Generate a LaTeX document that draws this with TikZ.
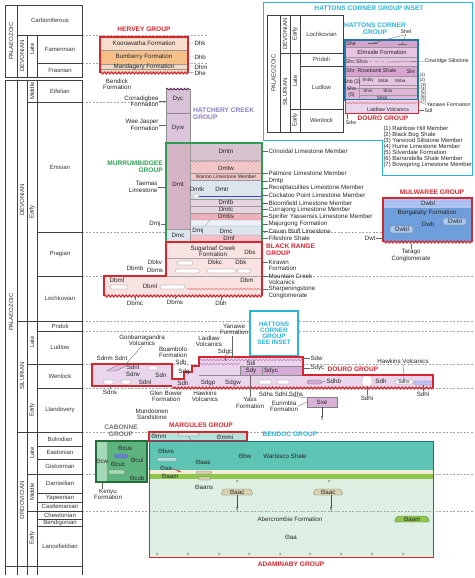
\documentclass[tikz,border=0pt]{standalone}
\usepackage{fontspec}
\setmainfont{Liberation Sans}
\usepackage{xcolor}
\usepackage{tikz}
\usetikzlibrary{decorations.pathmorphing, patterns, arrows.meta}
\definecolor{grpred}{HTML}{D7262E}
\definecolor{grpcyan}{HTML}{2BB3DA}
\definecolor{grpgreen}{HTML}{2F9E52}
\definecolor{grppurple}{HTML}{8C7BC0}
\definecolor{koorafill}{HTML}{F7DDCB}
\definecolor{bumbfill}{HTML}{F6C088}
\definecolor{mandafill}{HTML}{F1D9BF}
\definecolor{hatchfill}{HTML}{DCC5DA}
\definecolor{dmtfill}{HTML}{D5B3C5}
\definecolor{dmtnfill}{HTML}{D8C2CE}
\definecolor{dmtwfill}{HTML}{F2C5C6}
\definecolor{paleblue}{HTML}{DCE4EE}
\definecolor{dmtbfill}{HTML}{E6D5DF}
\definecolor{dmtisfill}{HTML}{EEB1BA}
\definecolor{rangefill}{HTML}{F8E2E2}
\definecolor{mulfill}{HTML}{6E9EDB}
\definecolor{mulpale}{HTML}{ABC7EC}
\definecolor{incfill}{HTML}{E7C4E1}
\definecolor{incdark}{HTML}{D7A3CF}
\definecolor{incborder}{HTML}{1B78A8}
\definecolor{dourofill}{HTML}{E9D6EC}
\definecolor{cabfill}{HTML}{5DB47F}
\definecolor{cabpale}{HTML}{A6D9B7}
\definecolor{margfill}{HTML}{B3E1DC}
\definecolor{bendfill}{HTML}{5EC4B4}
\definecolor{bendborder}{HTML}{1E6F88}
\definecolor{adamfill}{HTML}{DDF0E3}
\definecolor{limegreen}{HTML}{8EC64B}
\definecolor{creamfill}{HTML}{F1ECD4}
\definecolor{lensfill}{HTML}{D9D3B0}

\begin{document}
\begin{tikzpicture}[
  x=1pt, y=-1pt,
  tsline/.style={draw=black!75, line width=0.6pt},
  tstext/.style={font=\fontsize{6}{6.5}\selectfont, text=black!80, inner sep=0pt},
  tsrot/.style={tstext, rotate=90},
  stageline/.style={draw=black!35, dash pattern=on 2pt off 1.5pt, line width=0.4pt},
  lbl/.style={font=\fontsize{6.2}{6.4}\selectfont, text=black!85, inner sep=0.3pt, align=center},
  lblw/.style={lbl, anchor=west, align=left},
  lble/.style={lbl, anchor=east, align=right},
  small/.style={lbl, font=\fontsize{5}{5.5}\selectfont},
  ilbl/.style={lbl, font=\fontsize{5.3}{5.6}\selectfont},
  ttl/.style={font=\fontsize{6.6}{6.8}\bfseries\selectfont, inner sep=0pt, align=center},
  grp/.style={draw=grpred, line width=1.1pt},
  wavy/.style={decorate, decoration={snake, segment length=3.5pt, amplitude=1pt}},
  lead/.style={draw=black!60, line width=0.35pt},
  lensbox/.style={draw=black!55, line width=0.3pt, rounded corners=1.5pt},
  qmark/.style={font=\fontsize{4.5}{5}\selectfont, text=black!70, inner sep=0pt},
  qarrow/.style={-{Stealth[length=2.5pt, width=2pt]}, draw=black!70, line width=0.4pt}
]
\useasboundingbox (0,0) rectangle (474,578);

% ---- stage boundaries (dashed) ----
\draw[stageline] (82,35) -- (207,35) (82,63) -- (207,63) (82,102) -- (166,102) (82,232) -- (383,232);
\draw[stageline] (82,276) -- (474,276) (82,321) -- (474,321) (82,331) -- (474,331) (82,364) -- (474,364);
\draw[stageline] (82,388) -- (474,388) (82,432) -- (474,432) (82,474) -- (474,474) (82,511) -- (474,511);

% ---- Timescale (top) ----
\draw[tsline] (5,5) rectangle (82,77);
\draw[tsline] (17,5) -- (17,77) (17,35) -- (82,35) (27,35) -- (27,77) (37,35) -- (37,77) (37,63) -- (82,63);
\node[tsrot] (tPalTop) at (11,41) {PALAEOZOIC};
\node[tstext] (tCarb) at (50,20) {Carboniferous};
\node[tsrot] (tDevTop) at (22,56) {DEVONIAN};
\node[tsrot] (tLateTop) at (32,49) {Late};
\node[tstext] (tFam) at (60,49) {Famennian};
\node[tstext] (tFras) at (60,70) {Frasnian};

% ---- Timescale (main) ----
\draw[tsline] (5,575) -- (5,80) -- (82,80) -- (82,575);
\draw[tsline] (17,80) -- (17,575) (27,80) -- (27,575) (37,80) -- (37,575);
\draw[tsline] (27,102) -- (82,102) (37,232) -- (82,232) (37,276) -- (82,276) (17,321) -- (82,321);
\draw[tsline] (37,331) -- (82,331) (27,364) -- (82,364) (37,388) -- (82,388) (17,432) -- (82,432);
\draw[tsline] (37,446) -- (82,446) (37,459) -- (82,459) (27,474) -- (82,474) (37,493) -- (82,493);
\draw[tsline] (37,502) -- (82,502) (27,511) -- (82,511) (37,519) -- (82,519) (37,526) -- (82,526) (5,566) -- (82,566);
\node[tsrot] (tPal) at (11,312) {PALAEOZOIC};
\node[tsrot] (tDev) at (22,200) {DEVONIAN};
\node[tsrot] (tSil) at (22,376) {SILURIAN};
\node[tsrot] (tOrd) at (22,500) {ORDOVICIAN};
\node[tsrot] (tDevMid) at (32,91) {Middle};
\node[tsrot] (tDevEarly) at (32,212) {Early};
\node[tsrot] (tSilLate) at (32,342) {Late};
\node[tsrot] (tSilEarly) at (32,410) {Early};
\node[tsrot] (tOrdLate) at (32,453) {Late};
\node[tsrot] (tOrdMid) at (32,492) {Middle};
\node[tsrot] (tOrdEarly) at (32,538) {Early};
\node[tstext] (tEif) at (60,91) {Eifelian};
\node[tstext] (tEms) at (60,167) {Emsian};
\node[tstext] (tPrag) at (60,254) {Pragian};
\node[tstext] (tLoch) at (60,298) {Lochkovian};
\node[tstext] (tPrid) at (60,326) {Pridoli};
\node[tstext] (tLud) at (60,347) {Ludlow};
\node[tstext] (tWen) at (60,376) {Wenlock};
\node[tstext] (tLland) at (60,410) {Llandovery};
\node[tstext] (tBol) at (60,439) {Bolindian};
\node[tstext] (tEast) at (60,452.5) {Eastonian};
\node[tstext] (tGis) at (60,466.5) {Gisbornian};
\node[tstext] (tDarr) at (60,483.5) {Darriwilian};
\node[tstext] (tYap) at (60,497.5) {Yapeenian};
\node[tstext] (tCast) at (60,506.5) {Castlemanian};
\node[tstext] (tChew) at (60,515) {Chewtonian};
\node[tstext] (tBend) at (60,522.5) {Bendigonian};
\node[tstext] (tLance) at (60,546) {Lancefieldian};

% ---- Hervey Group ----
\fill[koorafill] (100,37) rectangle (188,50);
\fill[bumbfill] (100,50) rectangle (188,64);
\fill[mandafill] (100,64) rectangle (188,73);
\draw[black!40, line width=0.3pt] (100,50) -- (188,50) (100,64) -- (188,64) (100,69) -- (188,69);
\draw[grp] (100,73) -- (100,37) -- (188,37) -- (188,73);
\draw[grp, wavy] (100,73) -- (188,73);
\node[ttl, text=grpred] (hervey) at (144,29) {HERVEY GROUP};
\node[lbl] (koora) at (144,43.5) {Koorawatha Formation};
\node[lbl] (bumb) at (144,57) {Bumberry Formation};
\node[lbl] (manda) at (144,66.5) {Mandagery Formation};
\node[lblw] (dhk) at (194,43) {Dhk};
\node[lblw] (dhb) at (194,57) {Dhb};
\node[lblw] (dhm) at (194,67) {Dhm};
\node[lblw] (dhe) at (194,73) {Dhe};
\draw[lead] (188,43) -- (dhk.west) (188,57) -- (dhb.west) (188,67) -- (dhm.west) (188,72) -- (dhe.west);
\node[lbl] (bendick) at (117,84.5) {Bendick\\Formation};

% ---- Hatchery Creek Group ----
\fill[hatchfill] (166,89) rectangle (190,143);
\fill[pattern=dots, pattern color=black!35] (166,89) rectangle (190,113);
\draw[black!45, line width=0.4pt] (166,89) rectangle (190,143) (166,113) -- (190,113);
\draw[violet!60!black, wavy, line width=0.5pt] (166,89) -- (190,89);
\node[lbl] (dyc) at (178,99) {Dyc};
\node[lbl] (dyw) at (178,128) {Dyw};
\node[lble] (corr) at (159,101) {Corradigbee\\Formation};
\node[lble] (weej) at (159,125) {Wee Jasper\\Formation};
\draw[lead] (corr.east) -- (166,101) (weej.east) -- (166,125);
\node[ttl, text=grppurple, anchor=west, align=left] (hatchery) at (193,114) {HATCHERY CREEK\\GROUP};

% ---- Murrumbidgee Group ----
\fill[dmtfill] (166,143) rectangle (190,229);
\fill[paleblue] (166,229) rectangle (190,242);
\fill[dmtnfill] (190,143) rectangle (262,161);
\fill[dmtwfill] (190,161) rectangle (262,180);
\fill[paleblue] (190,180) rectangle (262,199);
\fill[dmtbfill] (190,199) rectangle (262,213);
\fill[dmtisfill] (190,213) rectangle (262,220);
\fill[paleblue!50!white] (190,220) rectangle (262,226);
\fill[paleblue] (190,226) rectangle (262,235);
\fill[dmtisfill!80!white] (190,235) rectangle (262,242);
\draw[black!40, line width=0.3pt] (190,143) -- (190,242) (166,229) -- (190,229) (190,173) -- (262,173);
\draw[black!40, line width=0.3pt] (190,180) -- (262,180) (190,199) -- (262,199) (190,206) -- (262,206) (190,213) -- (262,213);
\draw[black!40, line width=0.3pt] (190,220) -- (262,220) (190,226) -- (262,226) (190,235) -- (262,235) (205,226) -- (210,220);
\draw[black!45, wavy, line width=0.4pt] (190,161) -- (262,161);
\draw[blue!45!gray, line width=0.9pt] (198,196) -- (262,196);
\draw[lensbox, fill=white] (193,194) rectangle (199,198);
\draw[grpgreen, line width=1.1pt] (166,242) -- (166,143) -- (262,143) -- (262,242);
\node[lbl] (dmt) at (178,184) {Dmt};
\node[lbl] (dmcL) at (178,235.5) {Dmc};
\node[lbl] (dmtn) at (226,151) {Dmtn};
\node[lbl] (dmtw) at (226,168) {Dmtw};
\node[small] (warroo) at (226,176.5) {Warroo Limestone Member};
\node[lbl] (dmtk) at (197,189) {Dmtk};
\node[lbl] (dmtr) at (222,189) {Dmtr};
\node[lbl] (dmtb) at (226,202.5) {Dmtb};
\node[lbl] (dmtc) at (226,209.5) {Dmtc};
\node[lbl] (dmtis) at (226,216.5) {Dmtis};
\node[lbl] (dmjR) at (198,231) {Dmj};
\node[lbl] (dmcR) at (226,231) {Dmc};
\node[lbl] (dmf) at (229,238.5) {Dmf};
\node[ttl, text=grpgreen, anchor=east, align=right] (murrum) at (163,166.5) {MURRUMBIDGEE\\GROUP};
\node[lble] (taemas) at (158,187) {Taemas\\Limestone};
\node[lble] (dmjL) at (161,224) {Dmj};
\draw[lead] (taemas.east) -- (166,187) (dmjL.east) -- (166,224);
\node[lblw] (mbCrin) at (268,151) {Crinoidal Limestone Member};
\node[lblw] (mbPatm) at (268,173) {Patmore Limestone Member};
\node[lblw] (mbDmtp) at (268,181) {Dmtp};
\node[lblw] (mbRecep) at (268,188) {Receptaculites Limestone Member};
\node[lblw] (mbCock) at (268,195) {Cockatoo Point Limestone Member};
\node[lblw] (mbBloom) at (268,203) {Bloomfield Limestone Member};
\node[lblw] (mbCurr) at (268,209.5) {Currajong Limestone Member};
\node[lblw] (mbSpir) at (268,216.5) {Spirifer Yassensis Limestone Member};
\node[lblw] (mbMaj) at (268,224) {Majurgong Formation};
\node[lblw] (mbCavan) at (268,231) {Cavan Bluff Limestone};
\node[lblw] (mbFife) at (268,238) {Fifeshire Shale};
\draw[lead] (262,151) -- (mbCrin.west) (262,173) -- (mbPatm.west) (262,181) -- (mbDmtp.west) (262,188) -- (mbRecep.west);
\draw[lead] (262,195) -- (mbCock.west) (262,203) -- (mbBloom.west) (262,209.5) -- (mbCurr.west) (262,216.5) -- (mbSpir.west);
\draw[lead] (262,224) -- (mbMaj.west) (262,231) -- (mbCavan.west) (262,238) -- (mbFife.west);

% ---- Black Range Group ----
\fill[rangefill] (166,242) -- (262,242) -- (262,296) -- (104,296) -- (104,276) -- (166,276) -- cycle;
\draw[black!35, line width=0.3pt] (166,258) -- (262,258) (120,276) -- (262,276);
\draw[lensbox, fill=white] (177,261) rectangle (193,265);
\draw[lensbox, fill=white] (175,269) rectangle (200,273);
\draw[lensbox, fill=white] (207,269) rectangle (236,273);
\draw[lensbox, fill=white] (237,269) rectangle (251,273);
\draw[lensbox, fill=white] (110,285) rectangle (128,289);
\draw[lensbox, fill=white] (160,285) rectangle (185,289);
\draw[grpred!70, wavy, line width=0.4pt] (187,289) -- (262,289);
\draw[grp] (104,296) -- (104,276) -- (166,276) -- (166,242) -- (262,242) -- (262,296);
\draw[grp, wavy] (104,296) -- (262,296);
\node[lbl] (sugar) at (213,251) {Sugarloaf Creek\\Formation};
\node[lbl] (dbs) at (250,252) {Dbs};
\node[lbl] (dbkv) at (155,262) {Dbkv};
\node[lbl] (dbms) at (155,270) {Dbms};
\node[lbl] (dbmb) at (135,268) {Dbmb};
\node[lbl] (dbkc) at (215,262.5) {Dbkc};
\node[lbl] (dbk) at (241,262.5) {Dbk};
\node[lbl] (dbm) at (247,280) {Dbm};
\node[lbl] (dbmf) at (117,280) {Dbmf};
\node[lbl] (dbml) at (150,286) {Dbml};
\node[lbl] (dbmc) at (135,303) {Dbmc};
\node[lbl] (dbmsB) at (175,302) {Dbms};
\node[lbl] (dbh) at (221,303) {Dbh};
\draw[lead] (dbmc.north) -- (135,297) (dbmsB.north) -- (175,297) (dbh.north) -- (221,297);
\node[ttl, text=grpred, anchor=west, align=left] (brange) at (266,250) {BLACK RANGE\\GROUP};
\node[lblw] (kirawin) at (268,265) {Kirawin\\Formation};
\node[lblw] (mtcreek) at (268,279.5) {Mountain Creek\\Volcanics};
\node[lblw] (sharp) at (268,292.5) {Sharpeningstone\\Conglomerate};
\draw[lead] (262,262) -- (268,262) (262,276) -- (268,276) (262,289) -- (268,289);

% ---- Mulwaree Group ----
\fill[mulfill] (383,198) rectangle (472,242);
\fill[mulpale] (383,198) rectangle (472,208);
\draw[white!70!blue, line width=0.3pt] (383,201) -- (472,201) (383,204) -- (472,204);
\draw[lensbox, fill=mulpale] (443,218) rectangle (466,225);
\draw[lensbox, fill=mulpale] (390,226) rectangle (413,233);
\draw[grp] (383,242) -- (383,198) -- (472,198) -- (472,242);
\draw[grp, wavy] (383,242) -- (472,242);
\node[ttl, text=grpred] (mulwaree) at (432,192) {MULWAREE GROUP};
\node[lbl] (dwblTop) at (428,203) {Dwbl};
\node[lbl] (bongal) at (427,212.5) {Bongalaby Formation};
\node[lbl] (dwb) at (428,224) {Dwb};
\node[lbl] (dwblR) at (455,221.5) {Dwbl};
\node[lbl] (dwblL) at (402,229.5) {Dwbl};
\node[lble] (dwt) at (376,238) {Dwt};
\draw[lead] (dwt.east) -- (383,238);
\node[lbl] (tarago) at (411,255.5) {Tarago\\Conglomerate};
\draw[lead] (411,244) -- (tarago.north);

% ---- Hattons Corner Group inset ----
\draw[grpcyan, line width=0.8pt] (263,2) -- (472,2) -- (472,175) -- (382,175) -- (382,140) -- (263,140) -- cycle;
\node[ttl, text=grpcyan] (insetTitle) at (369,8.5) {HATTONS CORNER GROUP INSET};
\draw[tsline] (267,15) rectangle (343,132);
\draw[tsline] (280,15) -- (280,132) (290,15) -- (290,132) (300,15) -- (300,132);
\draw[tsline] (280,53) -- (343,53) (300,66) -- (343,66) (290,109) -- (343,109);
\node[tsrot] (iPal) at (273.5,73) {PALAEOZOIC};
\node[tsrot] (iDev) at (285,34) {DEVONIAN};
\node[tsrot] (iSil) at (285,92) {SILURIAN};
\node[tsrot] (iDevEarly) at (295,34) {Early};
\node[tsrot] (iSilLate) at (295,81) {Late};
\node[tsrot] (iSilEarly) at (295,120) {Early};
\node[tstext] (iLoch) at (321.5,34) {Lochkovian};
\node[tstext] (iPrid) at (321.5,59.5) {Pridoli};
\node[tstext] (iLud) at (321.5,87.5) {Ludlow};
\node[tstext] (iWen) at (321.5,120.5) {Wenlock};
\node[ttl, text=grpcyan] (hcTitle) at (375,28.5) {HATTONS CORNER\\GROUP};
\fill[incdark] (345,40) rectangle (418,47);
\fill[incfill] (345,47) rectangle (418,66);
\fill[incdark] (345,66) rectangle (418,76);
\fill[incfill] (345,76) rectangle (418,88);
\fill[incdark!80!white] (345,88) rectangle (418,100);
\draw[black!40, line width=0.3pt] (345,47) -- (418,47) (345,57) -- (418,57) (345,66) -- (418,66) (345,76) -- (418,76);
\draw[black!40, line width=0.3pt] (345,88) -- (418,88) (359,76) -- (359,100) (359,85) -- (418,85) (359,95) -- (418,95);
\draw[black!60, line width=0.6pt] (368,43) -- (378,43) (398,44) -- (407,44);
\draw[black!50, dashed, line width=0.4pt] (369,61) -- (386,62);
\draw[incborder, line width=1.2pt] (345,40) rectangle (418,100);
\node[ilbl] (shel) at (406,32) {Shel};
\draw[lead] (shel.south) -- (373,43) (shel.south) -- (402,44);
\node[ilbl] (she) at (351,43.5) {She};
\node[lbl, font=\fontsize{5.9}{6}\selectfont] (elmside) at (382,52) {Elmside Formation};
\node[ilbl] (shc) at (350.5,61.5) {Shc};
\node[ilbl] (shcs) at (362,61.5) {Shcs};
\node[ilbl] (shrL) at (350.5,71) {Shr};
\node[ilbl] (rosebank) at (377,71) {Rosebank Shale};
\node[ilbl] (shrR) at (411,72) {Shr};
\node[ilbl] (shb) at (352,82) {Shb (2)};
\node[small, font=\fontsize{4.5}{5}\selectfont] (shbly) at (368,80.5) {Shbly};
\node[small, font=\fontsize{4.5}{5}\selectfont] (shbb) at (383,80.5) {Shbb};
\node[small, font=\fontsize{4.5}{5}\selectfont] (shba) at (400,80.5) {Shba};
\node[ilbl] (shs) at (351.5,92) {Shs\\(5)};
\node[small, font=\fontsize{4.5}{5}\selectfont] (shsrL) at (368,91) {Shsr};
\node[small, font=\fontsize{4.5}{5}\selectfont] (shsrR) at (388,91) {Shsr};
\node[small, font=\fontsize{4.5}{5}\selectfont] (shsb) at (382,97.5) {Shsb};
\node[ilbl, anchor=west] (cowridge) at (424,61.5) {Cowridge Siltstone};
\draw[lead] (386,62) -- (cowridge.west);
\node[small, anchor=west, font=\fontsize{4.6}{5}\selectfont] (m1) at (419,75.5) {(1)};
\node[small, anchor=west, font=\fontsize{4.6}{5}\selectfont] (m2) at (419,80.5) {(2)};
\node[small, anchor=west, font=\fontsize{4.6}{5}\selectfont] (m3) at (420,85) {(3)};
\node[small, anchor=west, font=\fontsize{4.6}{5}\selectfont] (m4) at (420,89) {(4)};
\node[small, anchor=west, font=\fontsize{4.6}{5}\selectfont] (m5) at (420,93) {(5)};
\node[small, anchor=west, font=\fontsize{4.6}{5}\selectfont] (m6) at (420,97) {(6)};
\node[small, anchor=west, font=\fontsize{4.6}{5}\selectfont] (m7) at (420,101) {(7)};
\fill[dourofill] (345,100) rectangle (418,113);
\draw[grpred!70, wavy, line width=0.4pt] (345,103) -- (418,103);
\draw[grpred, line width=0.8pt] (345,100) -- (345,113) -- (418,113) -- (418,100);
\node[ilbl, anchor=west] (yanaweI) at (426,104.5) {Yanawe Formation};
\draw[lead] (418,101) -- (yanaweI.west);
\node[ilbl] (laidlawI) at (388,109.5) {Laidlaw Volcanics};
\node[ilbl, anchor=west] (sdlI) at (424,110.5) {Sdl};
\draw[lead] (418,110.5) -- (sdlI.west);
\node[ttl, text=grpred] (douroI) at (383,118) {DOURO GROUP};
\node[ilbl] (sdwI) at (351,122.5) {Sdw};
\draw[lead] (347,113) -- (347,119);
\node[lblw, font=\fontsize{5.9}{6}\selectfont] (legend) at (383,146.5) {(1) Rainbow Hill Member\\(2) Black Bog Shale\\(3) Yarwood Siltstone Member\\(4) Hume Limestone Member\\(5) Silverdale Formation\\(6) Barrandella Shale Member\\(7) Bowspring Limestone Member};

% ---- Hattons Corner see inset ----
\node[draw=grpcyan, line width=1.2pt, fill=white, minimum width=48pt, minimum height=45pt, inner sep=0pt,
  text=grpcyan, font=\fontsize{6.4}{6.1}\bfseries\selectfont, align=center] (hcSee) at (274,333.5) {HATTONS\\CORNER\\GROUP\\SEE INSET};

% ---- Douro Group ----
\fill[dourofill] (92,364) -- (172,364) -- (172,379) -- (184,379) -- (184,372) -- (192,372) -- (192,366) -- (199,366)
  -- (199,357) -- (303,357) -- (303,375) -- (433,375) -- (433,388) -- (172,388) -- (172,386) -- (92,386) -- cycle;
\draw[violet!55, wavy, line width=0.4pt] (199,360) -- (303,360);
\draw[violet!55, wavy, line width=0.4pt] (199,364) -- (240,364);
\fill[dourofill!80!violet] (240,366) rectangle (303,375);
\draw[black!45, line width=0.3pt] (240,366) rectangle (303,375) (262,366) -- (262,375) (199,375) -- (240,375);
\draw[lensbox, fill=violet!25] (106,371) -- (118,365) -- (128,365) -- (116,371) -- cycle;
\draw[lensbox, fill=white] (148,366) rectangle (158,370);
\draw[lensbox, fill=white] (103,380) rectangle (114,384);
\draw[lensbox, fill=white] (121,380) rectangle (131,384);
\draw[lensbox, fill=white] (258,380) rectangle (272,384);
\draw[lensbox, fill=white] (277,380) rectangle (290,384);
\draw[lensbox, fill=violet!35] (307,380) rectangle (322,384);
\draw[lensbox, fill=white] (362,376) rectangle (372,386);
\draw[lensbox, fill=white] (395,380) rectangle (413,384);
\draw[lensbox, fill=blue!25] (414,381) rectangle (433,385);
\draw[grp] (172,386) -- (92,386) -- (92,364) -- (172,364) -- (172,379) -- (184,379) -- (184,372) -- (192,372) -- (192,366)
  -- (199,366) -- (199,357) -- (303,357) -- (303,375) -- (433,375) -- (433,388);
\draw[grp, wavy] (433,388) -- (172,388);
\node[lbl] (sdnm) at (112,358) {Sdnm Sdnt};
\node[lbl] (sdnl) at (133,367) {Sdnl};
\node[lbl] (sdnv) at (133,374) {Sdnv};
\node[lbl] (sdn) at (161,375) {Sdn};
\node[lbl] (sdnlB) at (145,382) {Sdnl};
\node[lbl] (sdns) at (110,392) {Sdns};
\draw[lead] (sdns.north) -- (110,386);
\node[lbl] (goobar) at (142,340) {Goobarragandra\\Volcanics};
\draw[lead] (goobar.south) -- (125,365);
\node[lbl] (boambolo) at (173,352) {Boambolo\\Formation};
\node[lbl] (sdb) at (181,362) {Sdb};
\node[lbl] (sdg) at (184,371.5) {Sdg};
\node[lbl] (sdh) at (183,383) {Sdh};
\node[lbl] (sdgp) at (208,383) {Sdgp};
\node[lbl] (sdgw) at (233,383) {Sdgw};
\node[lbl] (laidlaw) at (209,341) {Laidlaw\\Volcanics};
\node[lbl] (sdgc) at (225,351.5) {Sdgc};
\draw[lead] (sdgc.south) -- (225,361);
\node[lbl] (yanawe) at (234,329.5) {Yanawe\\Formation};
\draw[lead] (232,336) -- (232,358);
\node[lbl] (sdi) at (251,363) {Sdi};
\node[lbl] (sdy) at (251,370.5) {Sdy};
\node[lbl] (sdyc) at (271,370.5) {Sdyc};
\node[lblw] (sdwR) at (310,358) {Sdw};
\node[lblw] (sdycR) at (310,368) {Sdyc};
\draw[lead] (303,358) -- (sdwR.west) (303,368) -- (sdycR.west);
\node[ttl, text=grpred] (douro) at (353,369) {DOURO GROUP};
\node[lbl] (hawkinsR) at (403,361) {Hawkins Volcanics};
\draw[lead] (hawkinsR.south) -- (404,380);
\node[lblw] (sdhb) at (326,381) {Sdhb};
\draw[lead] (322,382) -- (sdhb.west);
\node[lbl] (sdhR) at (381,381) {Sdh};
\node[small] (sdhsLens) at (404,382) {Sdhs};
\node[lbl] (sdhlR) at (423,394) {Sdhl};
\draw[lead] (sdhlR.north) -- (423,385);
\node[lbl] (sdhi) at (367,398) {Sdhi};
\draw[lead] (sdhi.north) -- (367,386);
\node[lbl] (sdhsRow) at (281,394) {Sdhs Sdhl Sdhs};
\node[lbl] (glenbower) at (166,396.5) {Glen Bower\\Formation};
\node[lbl] (hawkinsL) at (205,396.5) {Hawkins\\Volcanics};
\node[lbl] (yass) at (250,403) {Yass\\Formation};
\draw[lead] (250,375) -- (yass.north);
\node[lbl] (eurimbla) at (284,406) {Eurimbla\\Formation};
\node[lbl, draw=black!50, fill=violet!30, minimum width=30pt, minimum height=10pt] (sxe) at (322,402) {Sxe};
\draw[lead] (eurimbla.east) -- (sxe.west) (286,395) -- (307,398);
\node[qmark] (qSxe) at (322,420) {?};
\draw[qarrow] (sxe.south) -- (qSxe.north);
\node[lbl] (mundoonen) at (152,414) {Mundoonen\\Sandstone};

% ---- Cabonne Group ----
\fill[cabfill] (96,441) rectangle (147,482);
\fill[cabpale] (96,441) rectangle (107,482);
\draw[black!40, dashed, line width=0.3pt] (107,470) -- (125,476) -- (147,470) (107,455) -- (147,462);
\draw[lensbox, fill=cabpale!60!blue] (114,454) rectangle (128,458);
\draw[lensbox, fill=cabpale] (108,470) rectangle (125,474);
\draw[grpgreen!70!black, line width=1.1pt] (96,441) rectangle (147,482);
\node[ttl, text=black!55] (cabonne) at (121,431) {CABONNE\\GROUP};
\node[lbl] (ocus) at (125,448) {Θcus};
\node[lbl] (ocul) at (137,460) {Θcul};
\node[lbl] (ocw) at (102,461) {Θcw};
\node[lbl] (ocuc) at (118,464.5) {Θcuc};
\node[lbl] (ocub) at (137,478) {Θcub};
\node[lbl] (kenyu) at (108,494.5) {Kenyu\\Formation};
\draw[lead] (102,482) -- (102,489);

% ---- Margules Group ----
\fill[margfill] (149,432) rectangle (247,441);
\draw[lensbox, fill=margfill!70!white] (178,432.5) rectangle (199,436);
\draw[grp] (149,432) rectangle (247,441);
\node[ttl, text=grpred] (margules) at (201,425) {MARGULES GROUP};
\node[lbl] (omm) at (159,436.5) {Θmm};
\node[lbl] (ommi) at (225,437) {Θmmi};
\node[lbl] (omms) at (193,445.5) {Θmms};
\draw[lead] (188,436) -- (omms.north);

% ---- Bendoc Group ----
\fill[bendfill] (149,441) rectangle (433,470);
\draw[lensbox, fill=margfill] (157,457.5) rectangle (177,461);
\draw[bendborder, line width=0.9pt] (149,441) rectangle (433,470);
\node[ttl, text=grpcyan] (bendoc) at (290,434.5) {BENDOC GROUP};
\node[lbl] (obws) at (166,451.5) {Θbws};
\node[lbl] (obw) at (245,456) {Θbw};
\node[lbl] (warbisco) at (285,456) {Warbisco Shale};
\node[lbl] (oaas) at (203,462.5) {Θaas};

% ---- Adaminaby Group ----
\fill[creamfill] (149,470) rectangle (433,474);
\fill[limegreen] (149,474) rectangle (433,479);
\fill[adamfill] (149,479) rectangle (433,557);
\draw[stageline] (149,511) -- (433,511);
\draw[lensbox, fill=lensfill] (196,471) rectangle (212,474);
\draw[lensbox, fill=lensfill] (198,477) rectangle (211,480);
\draw[lensbox, fill=lensfill] (223,489) -- (251,489) -- (253,495) -- (221,495) -- cycle;
\draw[lensbox, fill=lensfill] (315,489) -- (341,489) -- (343,495) -- (313,495) -- cycle;
\draw[lensbox, fill=limegreen] (397,516) -- (427,516) -- (430,522) -- (394,522) -- cycle;
\draw[grpred, line width=0.9pt] (149,470) -- (149,557) -- (433,557) -- (433,470);
\node[lbl] (oaa) at (166,468.5) {Θaa};
\draw[grpred, -{Stealth[length=3pt, width=2.5pt]}, line width=0.5pt] (oaa.east) -- (181,472);
\node[lbl] (oaam) at (170,476.5) {Θaam};
\node[lbl] (oaans) at (204,487.5) {Θaans};
\node[lbl] (oaacL) at (237,492) {Θaac};
\node[lbl] (oaacR) at (328,492) {Θaac};
\node[qmark] (qTopL) at (237,482) {?};
\node[qmark] (qTopR) at (329,482) {?};
\node[qmark] (qBotL) at (237,511) {?};
\node[qmark] (qBotR) at (331,511) {?};
\draw[qarrow] (237,495) -- (qBotL.north);
\draw[qarrow] (331,495) -- (qBotR.north);
\node[lbl] (abercrombie) at (290,519) {Abercrombie Formation};
\node[lbl] (oaaB) at (291,537) {Θaa};
\node[lbl] (oaamB) at (412,519) {Θaam};
\node[qmark] (qb1) at (157,554.5) {?};
\node[qmark] (qb2) at (188,554.5) {?};
\node[qmark] (qb3) at (219,554.5) {?};
\node[qmark] (qb4) at (249,554.5) {?};
\node[qmark] (qb5) at (280,554.5) {?};
\node[qmark] (qb6) at (310,554.5) {?};
\node[qmark] (qb7) at (341,554.5) {?};
\node[qmark] (qb8) at (372,554.5) {?};
\node[qmark] (qb9) at (403,554.5) {?};
\node[ttl, text=grpred] (adaminaby) at (291,564) {ADAMINABY GROUP};

\end{tikzpicture}
\end{document}
